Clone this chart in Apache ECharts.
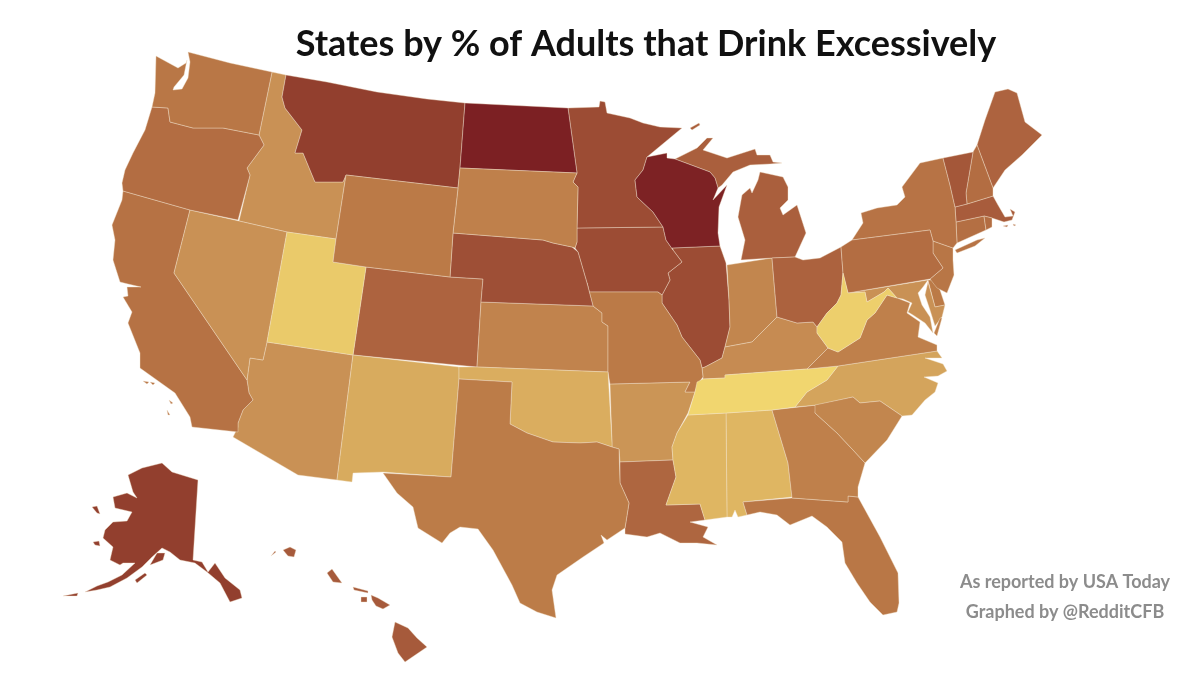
<!DOCTYPE html>
<html>
<head>
<meta charset="utf-8">
<title>States by % of Adults that Drink Excessively</title>
<script src="https://cdn.jsdelivr.net/npm/echarts@6/dist/echarts.min.js"></script>
<style>
	html, body { margin: 0; background: #fff; }
	#main { width: 1200px; height: 675px; }
</style>
</head>
<body>
<div id="main"></div>
<script>
const stateNames = ['Alabama', 'Alaska', 'Arizona', 'Arkansas', 'California', 'Colorado', 'Connecticut', 'Delaware', 'Florida', 'Georgia', 'Hawaii', 'Idaho', 'Illinois', 'Indiana', 'Iowa', 'Kansas', 'Kentucky', 'Louisiana', 'Maine', 'Maryland', 'Massachusetts', 'Michigan', 'Minnesota', 'Mississippi', 'Missouri', 'Montana', 'Nebraska', 'Nevada', 'New Hampshire', 'New Jersey', 'New Mexico', 'New York', 'North Carolina', 'North Dakota', 'Ohio', 'Oklahoma', 'Oregon', 'Pennsylvania', 'Rhode Island', 'South Carolina', 'South Dakota', 'Tennessee', 'Texas', 'Utah', 'Vermont', 'Virginia', 'Washington', 'West Virginia', 'Wisconsin', 'Wyoming'];
// the picture has no legend
const stateValues = [13, 21, 15, 14.8, 17.6, 18.7, 17.8, 17, 17.2, 16.5, 19.3, 15, 20.2, 16, 20.2, 16.2, 15.5, 18.5, 18.7, 15, 19.2, 19, 20.2, 13, 17, 21, 20, 15, 18, 17.3, 13.6, 17.5, 14, 24.7, 18.8, 13.5, 18, 18, 18, 16, 16.5, 11.2, 16.8, 11.9, 19.5, 16.5, 17.2, 11.6, 24.5, 17];
const title = 'States by % of Adults that Drink Excessively';
const notes = ['As reported by USA Today', 'Graphed by @RedditCFB'];

// no map file in the sandbox, so the state outlines are traced by hand from the picture
const stateOutlines = {
	Washington: [[[156, 56], [178, 68], [186, 63], [187, 60], [184, 75], [174, 87], [173, 90], [182, 89], [188, 78], [190, 62], [188, 52], [230, 63], [272, 72], [259, 135], [223, 128], [193, 128], [170, 122], [168, 108], [152, 107], [155, 93]]],
	Oregon: [[[152, 107], [168, 108], [170, 122], [193, 128], [223, 128], [259, 135], [264, 145], [247, 168], [250, 175], [238, 220], [190, 210], [123, 191], [122, 183], [125, 170], [133, 153], [145, 130]]],
	Idaho: [[[272, 72], [286, 75], [282, 97], [285, 108], [302, 130], [295, 153], [303, 153], [315, 182], [343, 182], [346, 175], [336, 239], [287, 232], [239, 221], [250, 175], [247, 168], [264, 145], [259, 135]]],
	Montana: [[[286, 75], [327, 82], [377, 92], [427, 99], [465, 103], [460, 168], [458, 188], [346, 175], [343, 182], [315, 182], [303, 153], [295, 153], [302, 130], [285, 108], [282, 97]]],
	Wyoming: [[[346, 175], [458, 188], [453, 233], [450, 277], [366, 267], [333, 262], [336, 239]]],
	Utah: [[[287, 232], [336, 239], [333, 262], [366, 267], [353, 355], [267, 342]]],
	Nevada: [[[190, 210], [239, 221], [287, 232], [267, 342], [263, 360], [250, 358], [247, 380], [174, 273]]],
	California: [
		[[123, 191], [190, 210], [174, 273], [247, 380], [249, 393], [253, 400], [243, 410], [238, 423], [238, 432], [192, 427], [190, 417], [175, 393], [140, 368], [140, 353], [128, 323], [132, 312], [123, 297], [128, 296], [127, 287], [141, 287], [128, 284], [120, 282], [113, 260], [115, 240], [112, 225], [122, 200]],
		[[143, 381], [149, 382], [147, 384]],
		[[150, 382], [155, 383], [153, 385]],
		[[169, 400], [173, 403], [171, 404]],
		[[167, 410], [170, 415], [168, 415]]
	],
	Arizona: [[[267, 342], [353, 355], [337, 480], [298, 475], [233, 437], [238, 427], [238, 423], [243, 410], [253, 400], [249, 393], [247, 380], [250, 358], [263, 360]]],
	Colorado: [[[366, 267], [450, 277], [483, 279], [481, 302], [477, 367], [353, 355]]],
	'New Mexico': [[[353, 355], [459, 367], [459, 379], [451, 477], [383, 472], [353, 473], [352, 482], [337, 480]]],
	Oklahoma: [[[459, 367], [477, 367], [608, 372], [612, 443], [612, 447], [597, 442], [580, 443], [553, 442], [527, 433], [510, 424], [512, 382], [459, 379]]],
	Texas: [[[459, 379], [512, 382], [510, 424], [527, 433], [553, 442], [580, 443], [597, 442], [612, 447], [619, 449], [620, 483], [629, 503], [625, 528], [607, 540], [601, 535], [604, 543], [583, 557], [557, 575], [552, 590], [556, 618], [537, 612], [520, 603], [512, 585], [493, 550], [478, 529], [460, 527], [450, 533], [442, 543], [418, 528], [413, 507], [397, 493], [383, 473], [451, 477]]],
	Kansas: [[[481, 302], [593, 306], [602, 313], [602, 322], [608, 326], [608, 372], [477, 367]]],
	Nebraska: [[[453, 233], [543, 240], [553, 243], [572, 247], [578, 252], [587, 283], [593, 306], [481, 302], [483, 279], [450, 277]]],
	'South Dakota': [[[460, 168], [577, 173], [573, 182], [578, 187], [577, 228], [577, 242], [575, 248], [572, 247], [553, 243], [543, 240], [453, 233], [458, 188]]],
	'North Dakota': [[[465, 103], [568, 108], [577, 173], [460, 168]]],
	Minnesota: [[[568, 108], [599, 107], [600, 101], [605, 102], [607, 113], [630, 118], [643, 123], [660, 127], [682, 128], [647, 157], [643, 170], [635, 180], [637, 197], [653, 212], [663, 227], [577, 228], [578, 187], [573, 182], [577, 173]]],
	Iowa: [[[577, 228], [663, 227], [666, 240], [673, 250], [682, 262], [668, 273], [670, 280], [662, 295], [658, 292], [589, 292], [587, 283], [578, 252], [575, 248], [577, 242]]],
	Wisconsin: [[[647, 157], [667, 153], [667, 158], [675, 159], [710, 172], [715, 178], [718, 188], [713, 200], [727, 185], [719, 207], [718, 233], [720, 246], [672, 248], [673, 250], [666, 240], [663, 227], [653, 212], [637, 197], [635, 180], [643, 170]]],
	Michigan: [
		[[675, 159], [697, 148], [707, 138], [713, 138], [703, 150], [727, 158], [755, 149], [757, 155], [770, 155], [773, 162], [782, 163], [770, 164], [750, 165], [733, 172], [722, 185], [718, 188], [715, 178], [710, 172]],
		[[760, 172], [783, 177], [788, 187], [788, 200], [780, 208], [783, 215], [797, 205], [806, 233], [795, 257], [772, 258], [741, 260], [745, 240], [738, 217], [742, 195], [750, 188], [752, 193], [758, 180]],
		[[690, 128], [699, 123], [700, 125], [692, 130]]
	],
	Illinois: [[[672, 248], [720, 246], [726, 263], [729, 300], [730, 327], [725, 347], [722, 358], [705, 367], [702, 368], [700, 360], [682, 337], [677, 325], [662, 303], [662, 295], [670, 280], [668, 273], [682, 262], [673, 250]]],
	Missouri: [[[589, 292], [658, 292], [662, 295], [662, 303], [677, 325], [682, 337], [700, 360], [702, 368], [703, 377], [697, 385], [695, 392], [685, 392], [690, 382], [610, 384], [608, 372], [608, 326], [602, 322], [602, 313], [593, 306], [587, 283]]],
	Arkansas: [[[610, 384], [690, 382], [685, 392], [695, 392], [688, 413], [677, 433], [672, 447], [673, 460], [620, 462], [619, 449], [612, 447], [612, 443]]],
	Louisiana: [[[620, 462], [673, 460], [676, 477], [666, 505], [700, 504], [705, 520], [690, 522], [708, 527], [703, 537], [717, 545], [697, 543], [680, 543], [660, 533], [647, 537], [625, 534], [625, 528], [629, 503], [620, 483]]],
	Mississippi: [[[688, 415], [726, 413], [727, 517], [705, 520], [700, 504], [666, 505], [676, 477], [673, 460], [672, 447], [677, 433]]],
	Alabama: [[[726, 413], [772, 410], [788, 463], [792, 497], [743, 502], [747, 515], [738, 517], [735, 510], [732, 517], [727, 517]]],
	Tennessee: [[[688, 415], [695, 392], [697, 382], [703, 379], [725, 378], [725, 375], [807, 369], [838, 366], [827, 380], [807, 392], [795, 407], [772, 410], [726, 413]]],
	Kentucky: [[[703, 379], [703, 377], [702, 368], [705, 367], [722, 358], [725, 347], [752, 342], [767, 327], [777, 317], [797, 323], [813, 322], [817, 327], [817, 333], [828, 348], [807, 369], [725, 375], [725, 378]]],
	Indiana: [[[727, 265], [772, 258], [773, 270], [777, 317], [767, 327], [752, 342], [725, 347], [730, 327], [729, 300]]],
	Ohio: [[[772, 258], [795, 257], [803, 260], [820, 258], [841, 247], [843, 273], [841, 295], [837, 303], [827, 313], [822, 320], [817, 327], [813, 322], [797, 323], [777, 317], [773, 270]]],
	Pennsylvania: [[[841, 247], [852, 240], [930, 230], [933, 241], [933, 253], [943, 268], [930, 279], [848, 293], [843, 273]]],
	'New York': [
		[[852, 240], [863, 223], [861, 213], [877, 208], [897, 205], [905, 197], [902, 187], [920, 163], [943, 158], [950, 185], [955, 207], [956, 222], [957, 243], [953, 248], [933, 241], [930, 230]],
		[[955, 250], [977, 240], [985, 238], [975, 246], [957, 253]]
	],
	'New Jersey': [[[933, 241], [953, 248], [953, 260], [954, 275], [947, 293], [937, 288], [930, 279], [943, 268], [933, 253]]],
	Vermont: [[[943, 158], [973, 152], [966, 193], [967, 204], [955, 207], [950, 185]]],
	'New Hampshire': [[[973, 152], [977, 145], [993, 188], [993, 196], [967, 204], [966, 193]]],
	Maine: [[[977, 145], [985, 120], [995, 92], [1008, 89], [1017, 93], [1025, 122], [1042, 135], [1022, 155], [1005, 170], [993, 188]]],
	Massachusetts: [
		[[955, 207], [967, 204], [993, 196], [998, 205], [1005, 217], [1013, 216], [1010, 209], [1015, 212], [1012, 220], [1004, 222], [992, 218], [984, 216], [956, 222]],
		[[1003, 226], [1008, 225], [1007, 227]],
		[[1013, 224], [1016, 225], [1014, 226]]
	],
	Connecticut: [[[956, 222], [984, 216], [986, 230], [957, 243]]],
	'Rhode Island': [[[984, 216], [992, 218], [992, 227], [986, 230]]],
	'West Virginia': [[[843, 273], [848, 293], [865, 292], [867, 302], [884, 292], [888, 288], [897, 298], [887, 295], [875, 313], [867, 320], [860, 338], [838, 352], [828, 348], [817, 333], [817, 327], [822, 320], [827, 313], [837, 303], [841, 295]]],
	Maryland: [
		[[848, 293], [928, 280], [923, 287], [918, 293], [922, 305], [930, 317], [933, 333], [925, 323], [913, 315], [908, 312], [912, 303], [903, 299], [897, 298], [888, 288], [884, 292], [867, 302], [865, 292]],
		[[928, 282], [935, 307], [945, 305], [942, 317], [935, 326], [930, 310], [925, 295]]
	],
	Delaware: [[[928, 280], [932, 280], [940, 290], [945, 305], [935, 307]]],
	Virginia: [
		[[807, 369], [828, 348], [838, 352], [860, 338], [867, 320], [875, 313], [887, 295], [897, 298], [910, 303], [907, 313], [920, 322], [918, 337], [937, 345], [937, 351], [838, 366]],
		[[942, 318], [937, 336], [934, 333], [940, 318]]
	],
	'North Carolina': [[[838, 366], [937, 351], [942, 358], [925, 358], [943, 364], [947, 371], [938, 376], [924, 377], [938, 383], [935, 392], [925, 400], [912, 415], [902, 416], [880, 401], [860, 403], [853, 397], [817, 405], [795, 407], [807, 392], [827, 380]]],
	'South Carolina': [[[815, 405], [853, 397], [860, 403], [880, 401], [902, 416], [887, 440], [865, 463], [853, 450], [837, 433], [815, 413]]],
	Georgia: [[[772, 410], [817, 405], [815, 413], [837, 433], [853, 450], [865, 463], [858, 487], [858, 497], [848, 496], [848, 502], [792, 498], [788, 463]]],
	Florida: [[[743, 502], [792, 498], [848, 502], [848, 496], [858, 497], [880, 537], [898, 573], [899, 603], [897, 612], [883, 615], [870, 602], [857, 583], [845, 563], [842, 542], [827, 527], [812, 516], [790, 525], [777, 515], [760, 512], [747, 515]]],
	Alaska: [
		[[198, 480], [193, 560], [202, 562], [208, 572], [215, 563], [225, 578], [240, 590], [242, 598], [230, 602], [220, 583], [207, 572], [195, 563], [180, 560], [170, 552], [162, 548], [152, 557], [142, 567], [127, 578], [110, 587], [97, 590], [85, 592], [97, 586], [108, 582], [122, 575], [135, 563], [123, 563], [120, 565], [110, 560], [113, 547], [103, 538], [105, 530], [113, 522], [127, 521], [132, 512], [115, 508], [113, 497], [127, 493], [137, 498], [133, 492], [128, 475], [142, 468], [162, 463], [172, 472]],
		[[150, 565], [157, 553], [165, 553], [163, 560]],
		[[135, 580], [145, 573], [147, 575], [137, 583]],
		[[63, 596], [78, 593], [77, 596]],
		[[93, 542], [99, 541], [100, 546], [95, 545]],
		[[92, 507], [97, 506], [100, 514], [97, 513]]
	],
	Hawaii: [
		[[283, 550], [290, 547], [296, 550], [294, 557], [288, 556]],
		[[271, 556], [275, 551], [276, 552]],
		[[327, 573], [332, 569], [342, 583], [333, 582]],
		[[353, 587], [368, 591], [368, 593], [354, 590]],
		[[361, 597], [367, 597], [367, 602], [361, 602]],
		[[371, 595], [378, 598], [390, 605], [383, 609], [376, 606], [372, 600]],
		[[395, 622], [408, 628], [417, 638], [427, 647], [405, 662], [398, 653], [392, 637]]
	]
};

function build_geojson() {
	// echarts puts larger latitudes higher, the tracing counts downwards
	const features = stateNames.map((name) => ({
		type: 'Feature',
		properties: { name: name },
		geometry: {
			type: 'MultiPolygon',
			coordinates: stateOutlines[name].map((ring) => [ring.map((p) => [p[0], 675 - p[1]])]),
		},
	}));
	return { type: 'FeatureCollection', features: features };
}

echarts.registerMap('usa', build_geojson());

const chart = echarts.init(document.getElementById('main'));
chart.setOption({
	backgroundColor: '#fff',
	animation: false,
	title: [
		{
			text: title,
			left: 641,
			top: 21,
			textAlign: 'center',
			textStyle: { fontFamily: 'Lato', fontSize: 36, fontWeight: 'bold', color: '#111' },
		},
		{
			text: notes[0],
			left: 1060,
			top: 568,
			textAlign: 'center',
			textStyle: { fontFamily: 'Lato', fontSize: 18, fontWeight: 'bold', color: '#8c8c8c' },
		},
		{
			text: notes[1],
			left: 1060,
			top: 598,
			textAlign: 'center',
			textStyle: { fontFamily: 'Lato', fontSize: 18, fontWeight: 'bold', color: '#8c8c8c' },
		},
	],
	visualMap: {
		show: false,
		type: 'continuous',
		min: 11,
		max: 25,
		inRange: { color: ['#f3da70', '#dfb662', '#c99155', '#bb7a47', '#aa5f3d', '#923f2e', '#86302a', '#7a1d22'] },
	},
	series: [
		{
			type: 'map',
			map: 'usa',
			roam: false,
			silent: true,
			aspectScale: 1,
			boundingCoords: [[0, 675], [1200, 0]],
			left: 0,
			top: 0,
			width: 1200,
			height: 675,
			label: { show: false },
			itemStyle: { borderColor: '#f3e3cc', borderWidth: 0.4 },
			data: stateNames.map((name, i) => ({ name: name, value: stateValues[i] })),
		},
	],
});
</script>
</body>
</html>
